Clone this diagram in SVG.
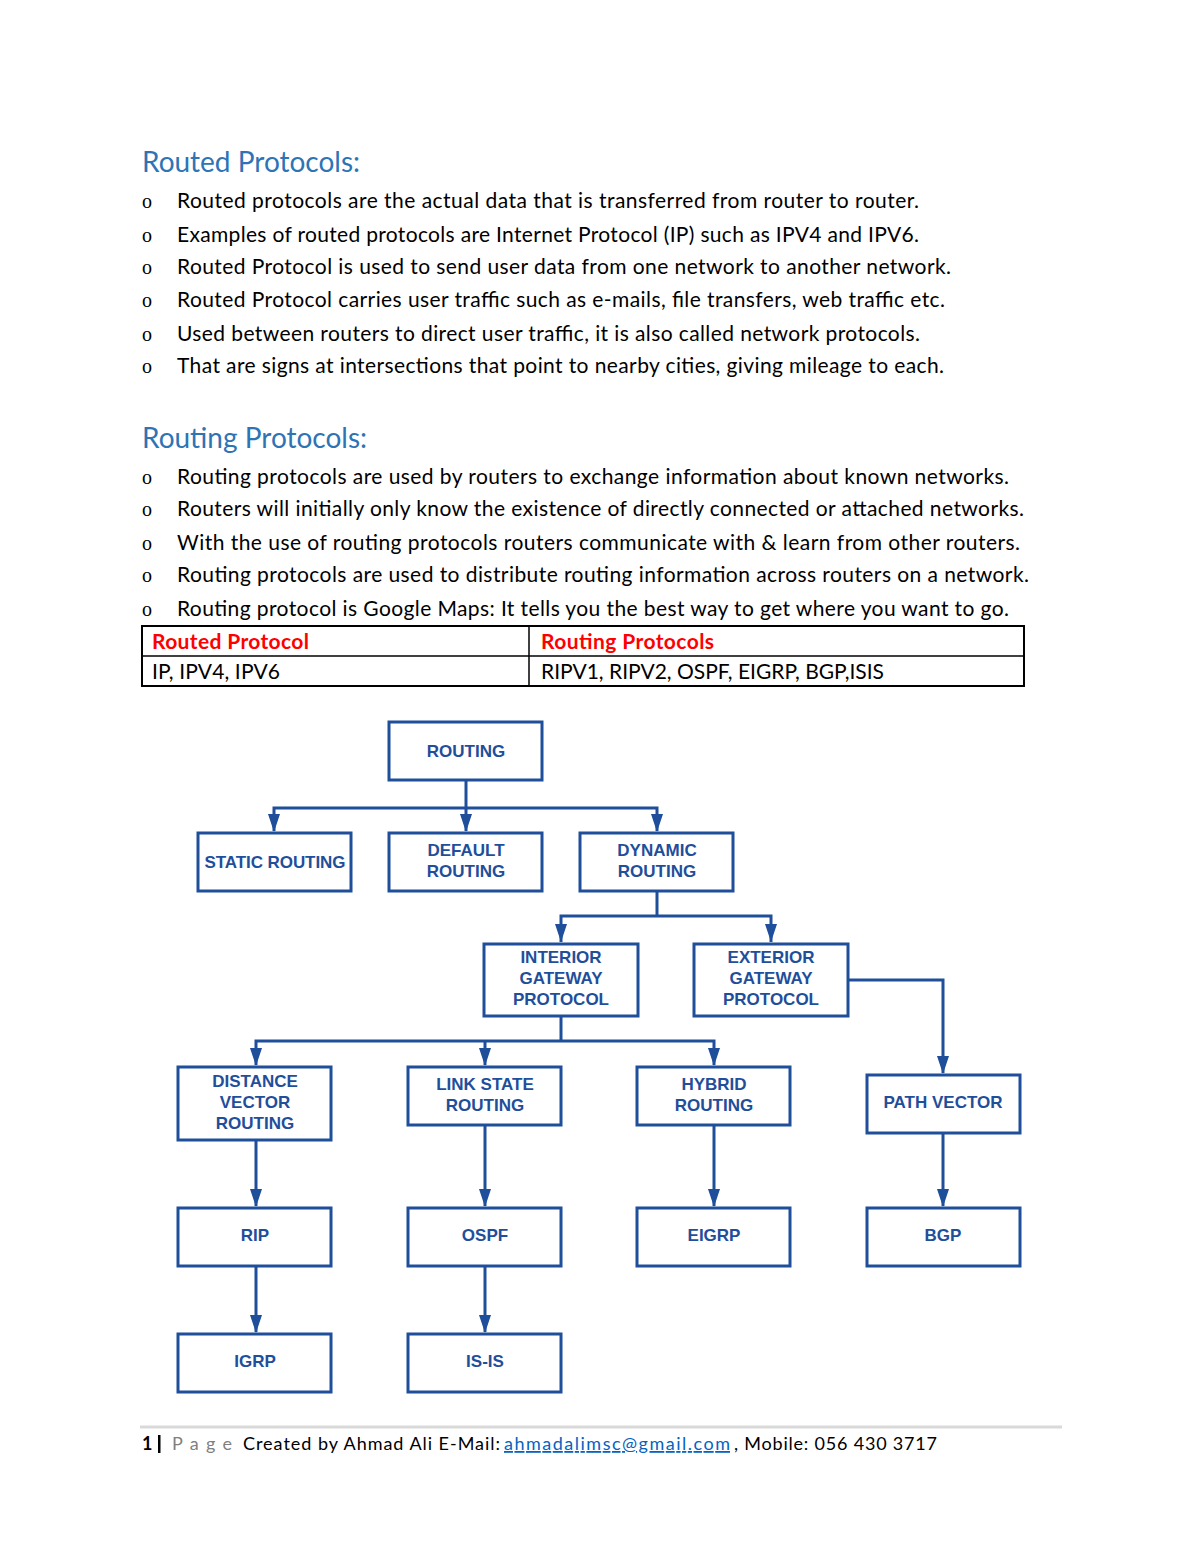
<svg xmlns="http://www.w3.org/2000/svg" width="1200" height="1553" viewBox="0 0 1200 1553">
<style>
.h{font-family:Lato,"Liberation Sans",sans-serif;font-size:28px;fill:#2E74B5}
.t{font-family:Lato,"Liberation Sans",sans-serif;font-size:21px;fill:#000}
.b{font-family:"Liberation Serif",serif;font-size:20px;fill:#000}
.red{font-family:Lato,"Liberation Sans",sans-serif;font-size:21px;fill:#FF0000;font-weight:bold}
.box{fill:#fff;stroke:#1F4E9A;stroke-width:3}
.n{font-family:"Liberation Sans",Arial,sans-serif;font-size:17px;fill:#1F4E9A;text-anchor:middle;font-weight:bold}
.c{fill:none;stroke:#1F4E9A;stroke-width:3}
.f{font-family:Lato,"Liberation Sans",sans-serif;font-size:18px;fill:#000}
.gray{fill:#7F7F7F}
.link{fill:#0563C1;text-decoration:underline}
</style>
<rect width="1200" height="1553" fill="#fff"/>

<g id="text-routed">
<text class="h" x="142" y="172">Routed Protocols:</text>
<text class="b" x="142" y="208">o</text><text class="t" x="177" y="208" textLength="742">Routed protocols are the actual data that is transferred from router to router.</text>
<text class="b" x="142" y="242">o</text><text class="t" x="177" y="242" textLength="742">Examples of routed protocols are Internet Protocol (IP) such as IPV4 and IPV6.</text>
<text class="b" x="142" y="274">o</text><text class="t" x="177" y="274" textLength="774">Routed Protocol is used to send user data from one network to another network.</text>
<text class="b" x="142" y="307">o</text><text class="t" x="177" y="307" textLength="768">Routed Protocol carries user traffic such as e-mails, file transfers, web traffic etc.</text>
<text class="b" x="142" y="341">o</text><text class="t" x="177" y="341" textLength="743">Used between routers to direct user traffic, it is also called network protocols.</text>
<text class="b" x="142" y="373">o</text><text class="t" x="177" y="373" textLength="767">That are signs at intersections that point to nearby cities, giving mileage to each.</text>
</g>

<g id="text-routing">
<text class="h" x="142" y="448">Routing Protocols:</text>
<text class="b" x="142" y="484">o</text><text class="t" x="177" y="484" textLength="832">Routing protocols are used by routers to exchange information about known networks.</text>
<text class="b" x="142" y="516">o</text><text class="t" x="177" y="516" textLength="847">Routers will initially only know the existence of directly connected or attached networks.</text>
<text class="b" x="142" y="550">o</text><text class="t" x="177" y="550" textLength="843">With the use of routing protocols routers communicate with &amp; learn from other routers.</text>
<text class="b" x="142" y="582">o</text><text class="t" x="177" y="582" textLength="852">Routing protocols are used to distribute routing information across routers on a network.</text>
<text class="b" x="142" y="616">o</text><text class="t" x="177" y="616" textLength="832">Routing protocol is Google Maps: It tells you the best way to get where you want to go.</text>
</g>

<g id="table">
<rect x="142" y="626" width="882" height="60" fill="none" stroke="#000" stroke-width="2"/>
<line x1="142" y1="656" x2="1024" y2="656" stroke="#000" stroke-width="1.5"/>
<line x1="529" y1="626" x2="529" y2="686" stroke="#000" stroke-width="1.5"/>
<text class="red" x="152" y="649" textLength="157">Routed Protocol</text>
<text class="red" x="541" y="649" textLength="173">Routing Protocols</text>
<text class="t" x="152" y="679" textLength="128">IP, IPV4, IPV6</text>
<text class="t" x="541" y="679" textLength="343">RIPV1, RIPV2, OSPF, EIGRP, BGP,ISIS</text>
</g>

<g id="connectors">
<path class="c" d="M466,780 V808"/>
<path class="c" d="M274,831 V808 H657 V831"/>
<path class="c" d="M466,808 V831"/>
<path class="c" d="M657,891 V916"/>
<path class="c" d="M561,942 V916 H771 V942"/>
<path class="c" d="M848,980 H943 V1073"/>
<path class="c" d="M561,1016 V1041"/>
<path class="c" d="M256,1065 V1041 H714 V1065"/>
<path class="c" d="M485,1041 V1065"/>
<path class="c" d="M256,1140 V1206"/>
<path class="c" d="M485,1125 V1206"/>
<path class="c" d="M714,1125 V1206"/>
<path class="c" d="M943,1133 V1206"/>
<path class="c" d="M256,1266 V1332"/>
<path class="c" d="M485,1266 V1332"/>
<g fill="#1F4E9A">
<path d="M268,814 L280,814 L274,832 Z"/>
<path d="M460,814 L472,814 L466,832 Z"/>
<path d="M651,814 L663,814 L657,832 Z"/>
<path d="M555,924 L567,924 L561,942 Z"/>
<path d="M765,924 L777,924 L771,942 Z"/>
<path d="M937,1056 L949,1056 L943,1074 Z"/>
<path d="M250,1048 L262,1048 L256,1066 Z"/>
<path d="M479,1048 L491,1048 L485,1066 Z"/>
<path d="M708,1048 L720,1048 L714,1066 Z"/>
<path d="M250,1189 L262,1189 L256,1207 Z"/>
<path d="M479,1189 L491,1189 L485,1207 Z"/>
<path d="M708,1189 L720,1189 L714,1207 Z"/>
<path d="M937,1189 L949,1189 L943,1207 Z"/>
<path d="M250,1315 L262,1315 L256,1333 Z"/>
<path d="M479,1315 L491,1315 L485,1333 Z"/>
</g>
</g>

<g id="n-routing"><rect class="box" x="389" y="722" width="153" height="58"/><text class="n" x="466" y="757">ROUTING</text></g>
<g id="n-static"><rect class="box" x="198" y="833" width="153" height="58"/><text class="n" x="275" y="868" textLength="141">STATIC ROUTING</text></g>
<g id="n-default"><rect class="box" x="389" y="833" width="153" height="58"/><text class="n" x="466" y="856">DEFAULT</text><text class="n" x="466" y="877">ROUTING</text></g>
<g id="n-dynamic"><rect class="box" x="580" y="833" width="153" height="58"/><text class="n" x="657" y="856">DYNAMIC</text><text class="n" x="657" y="877">ROUTING</text></g>
<g id="n-interior"><rect class="box" x="484" y="944" width="154" height="72"/><text class="n" x="561" y="963">INTERIOR</text><text class="n" x="561" y="984">GATEWAY</text><text class="n" x="561" y="1005">PROTOCOL</text></g>
<g id="n-exterior"><rect class="box" x="694" y="944" width="154" height="72"/><text class="n" x="771" y="963">EXTERIOR</text><text class="n" x="771" y="984">GATEWAY</text><text class="n" x="771" y="1005">PROTOCOL</text></g>
<g id="n-distance"><rect class="box" x="178" y="1067" width="153" height="73"/><text class="n" x="255" y="1087">DISTANCE</text><text class="n" x="255" y="1108">VECTOR</text><text class="n" x="255" y="1129">ROUTING</text></g>
<g id="n-linkstate"><rect class="box" x="408" y="1067" width="153" height="58"/><text class="n" x="485" y="1090">LINK STATE</text><text class="n" x="485" y="1111">ROUTING</text></g>
<g id="n-hybrid"><rect class="box" x="637" y="1067" width="153" height="58"/><text class="n" x="714" y="1090">HYBRID</text><text class="n" x="714" y="1111">ROUTING</text></g>
<g id="n-pathvector"><rect class="box" x="867" y="1075" width="153" height="58"/><text class="n" x="943" y="1108">PATH VECTOR</text></g>
<g id="n-rip"><rect class="box" x="178" y="1208" width="153" height="58"/><text class="n" x="255" y="1241">RIP</text></g>
<g id="n-ospf"><rect class="box" x="408" y="1208" width="153" height="58"/><text class="n" x="485" y="1241">OSPF</text></g>
<g id="n-eigrp"><rect class="box" x="637" y="1208" width="153" height="58"/><text class="n" x="714" y="1241">EIGRP</text></g>
<g id="n-bgp"><rect class="box" x="867" y="1208" width="153" height="58"/><text class="n" x="943" y="1241">BGP</text></g>
<g id="n-igrp"><rect class="box" x="178" y="1334" width="153" height="58"/><text class="n" x="255" y="1367">IGRP</text></g>
<g id="n-isis"><rect class="box" x="408" y="1334" width="153" height="58"/><text class="n" x="485" y="1367">IS-IS</text></g>

<g id="footer">
<line x1="140" y1="1427" x2="1062" y2="1427" stroke="#D9D9D9" stroke-width="3"/>
<text class="f" x="142" y="1450" font-weight="bold">1</text>
<rect x="158" y="1435" width="2.5" height="18" fill="#000"/>
<text class="f gray" x="172" y="1450" textLength="60">Page</text>
<text class="f" x="243" y="1450" textLength="257">Created by Ahmad Ali E-Mail:</text>
<text class="f link" x="504" y="1450" textLength="226">ahmadalimsc@gmail.com </text>
<text class="f" x="734" y="1450" textLength="203">, Mobile: 056 430 3717</text>
</g>
</svg>
